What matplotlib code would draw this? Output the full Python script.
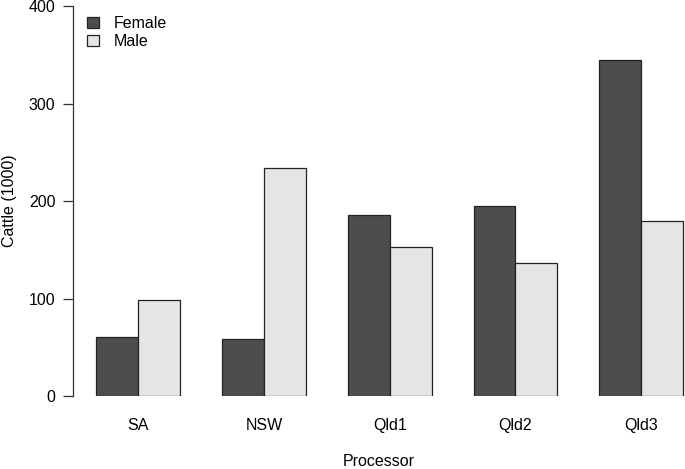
import matplotlib.pyplot as plt
from matplotlib.patches import Patch

plt.rcParams['font.family'] = ['Liberation Sans', 'DejaVu Sans']

# datos
processors = ['SA', 'NSW', 'Qld1', 'Qld2', 'Qld3']
female = [61, 58, 186, 195, 345]
male = [99, 234, 153, 137, 180]

W, H = 685, 469
fig = plt.figure(figsize=(W / 100, H / 100), dpi=100)
ax = fig.add_axes([73 / W, (H - 396) / H, (W - 73) / W, (396 - 6.3) / H])

# barras estilo barplot de R: ancho 1, espacio 1 entre grupos
f_left = [1 + 3 * i for i in range(len(processors))]
m_left = [2 + 3 * i for i in range(len(processors))]
ax.bar(f_left, female, width=1, align='edge', color='#4d4d4d', edgecolor='#222222', linewidth=0.9)
ax.bar(m_left, male, width=1, align='edge', color='#e5e5e5', edgecolor='#222222', linewidth=0.9)

ax.set_xlim(0.44, 1 + (W - 96.7) / 41.88)
ax.set_ylim(0, 400)

for s in ['top', 'right', 'bottom']:
    ax.spines[s].set_visible(False)
ax.spines['left'].set_color('#333333')
ax.spines['left'].set_linewidth(0.9)

ax.set_yticks([0, 100, 200, 300, 400])
ax.tick_params(axis='y', length=7.2, width=0.9, color='#333333', labelsize=11.5, pad=5.5)
ax.set_xticks([x + 1 for x in f_left])
ax.set_xticklabels(processors)
ax.tick_params(axis='x', length=0, labelsize=11.5, pad=16)

ax.set_xlabel('Processor', fontsize=11.5, labelpad=15)
ax.set_ylabel('Cattle (1000)', fontsize=11.5)
ax.yaxis.set_label_coords((17 - 73) / (W - 73), 0.5)

handles = [Patch(facecolor='#4d4d4d', edgecolor='#222222', linewidth=0.9),
           Patch(facecolor='#e5e5e5', edgecolor='#222222', linewidth=0.9)]
fig.legend(handles, ['Female', 'Male'], loc='upper left',
           bbox_to_anchor=(87 / W, 1 - 16 / H), frameon=False, fontsize=11.5,
           handlelength=0.75, handleheight=0.65, handletextpad=0.9,
           labelspacing=0.2, borderpad=0, borderaxespad=0)

plt.savefig('out.png', dpi=100)
